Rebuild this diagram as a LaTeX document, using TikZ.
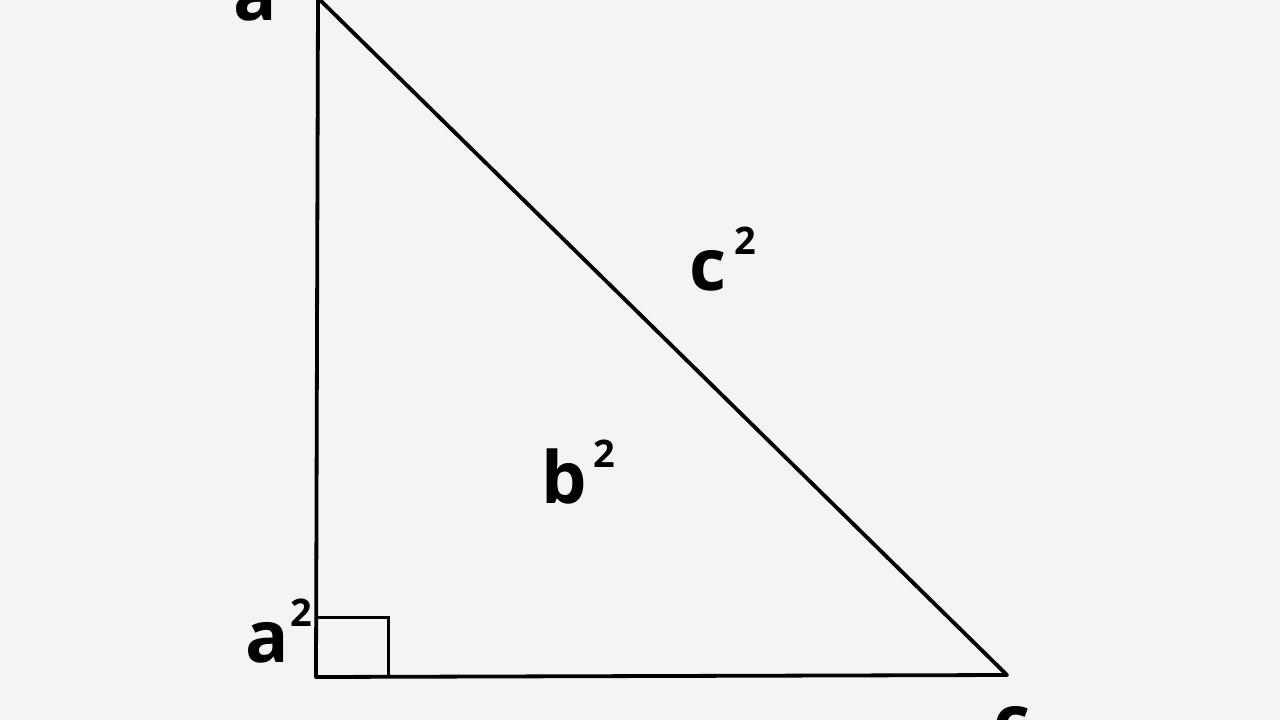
\documentclass[tikz,border=0pt]{standalone}
\usepackage{fontspec}
\setmainfont{Open Sans}
\tikzset{every picture/.style={line width=3.8pt}}
\tikzset{lbl/.style={anchor=base west,inner sep=0pt,font=\fontsize{72}{72}\selectfont\bfseries}}
\newcommand{\sq}[1][3pt]{\hspace{#1}\raisebox{0.5em}{\fontsize{38}{38}\selectfont 2}}

\begin{document}
\begin{tikzpicture}[x=1pt,y=1pt,yscale=-1,xscale=1]
%background
\fill [fill={rgb, 255:red, 244; green, 244; blue, 244 }] (0,0) rectangle (1280,720);
\useasboundingbox (0,0) rectangle (1280,720);

%Vertices
\coordinate (A) at (318,-2);
\coordinate (B) at (316,677);
\coordinate (C) at (1007,675);

%Triangle
\draw [line join=round] (A) -- (B) -- (C) -- cycle ;
%Right angle
\draw [line width=3pt] (316,617) -- (388,617) -- (388,677) ;

% Text Node
\node [lbl] (ta) at (232,20) {a};
% Text Node
\node [lbl] (ta2) at (244,662) {a\sq[1pt]};
% Text Node
\node [lbl] (tb2) at (540,503) {b\sq[6pt]};
% Text Node
\node [lbl] (tc2) at (688,290) {c\sq[8pt]};
% Text Node
\node [lbl] (tc) at (992,746) {c};

\end{tikzpicture}
\end{document}
